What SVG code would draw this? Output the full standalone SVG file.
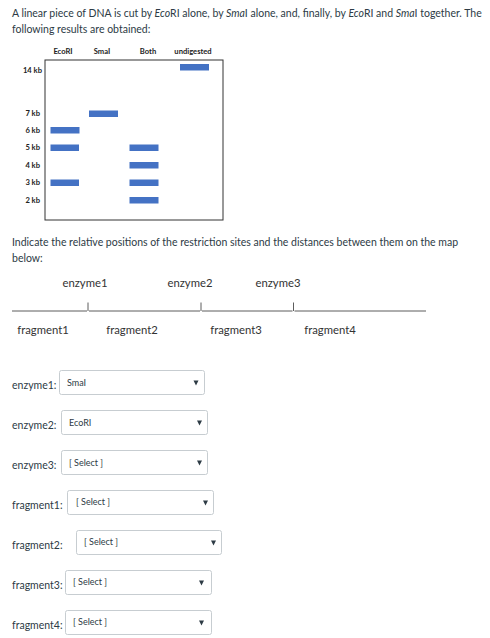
<svg xmlns="http://www.w3.org/2000/svg" width="490" height="638" viewBox="0 0 490 638">
<style>
.p{font-family:Lato,"Liberation Sans",sans-serif;font-size:10.5px;fill:#2d3b45}
.gl{font-family:Lato,"Liberation Sans",sans-serif;font-size:7.6px;font-weight:bold;fill:#222}
.ml{font-family:Lato,"Liberation Sans",sans-serif;font-size:11.3px;fill:#333}
.band{fill:#4472C4}
.box{fill:#fff;stroke:#c7cdd1;stroke-width:1}
.dt{font-family:Lato,"Liberation Sans",sans-serif;font-size:9px;fill:#2d3b45}
.ar{fill:#2d3b45}
.ln{stroke:#333;stroke-width:0.8}
</style>
<rect width="490" height="638" fill="#fff"/>
<g id="intro">
<text class="p" x="12" y="17">A linear piece of DNA  is cut by <tspan font-style="italic">Eco</tspan>RI alone, by <tspan font-style="italic">Sma</tspan>I alone, and, finally, by <tspan font-style="italic">Eco</tspan>RI and <tspan font-style="italic">Sma</tspan>I together. The</text>
<text class="p" x="12" y="33">following results are obtained:</text>
</g>
<g id="gel">
<rect x="45" y="60" width="178" height="160" fill="#fff" stroke="#333" stroke-width="1"/>
<text class="gl" x="63" y="54" text-anchor="middle">EcoRI</text>
<text class="gl" x="102" y="54" text-anchor="middle">SmaI</text>
<text class="gl" x="148" y="54" text-anchor="middle">Both</text>
<text class="gl" x="193" y="54" text-anchor="middle">undigested</text>
<text class="gl" x="42" y="72.5" text-anchor="end">14 kb</text>
<text class="gl" x="40" y="115.5" text-anchor="end">7 kb</text>
<text class="gl" x="40" y="132.5" text-anchor="end">6 kb</text>
<text class="gl" x="40" y="149.5" text-anchor="end">5 kb</text>
<text class="gl" x="40" y="167.5" text-anchor="end">4 kb</text>
<text class="gl" x="40" y="184.5" text-anchor="end">3 kb</text>
<text class="gl" x="40" y="202.5" text-anchor="end">2 kb</text>
<rect class="band" x="180" y="64" width="29" height="6.5"/>
<rect class="band" x="89" y="110.5" width="29" height="6.5"/>
<rect class="band" x="50.5" y="127" width="29" height="6.5"/>
<rect class="band" x="50.5" y="144.5" width="28.5" height="6.5"/>
<rect class="band" x="50.5" y="179.5" width="28.5" height="6.5"/>
<rect class="band" x="129.5" y="144.5" width="29" height="6.5"/>
<rect class="band" x="129.5" y="162" width="29" height="6.5"/>
<rect class="band" x="129.5" y="179.5" width="29" height="6.5"/>
<rect class="band" x="129.5" y="197" width="29" height="6.5"/>
</g>
<g id="question">
<text class="p" x="12" y="246">Indicate the relative positions of the restriction sites and the distances between them on the map</text>
<text class="p" x="12" y="262">below:</text>
</g>
<g id="map">
<text class="ml" x="85" y="287" text-anchor="middle">enzyme1</text>
<text class="ml" x="190" y="287" text-anchor="middle">enzyme2</text>
<text class="ml" x="278" y="287" text-anchor="middle">enzyme3</text>
<text class="ml" x="43" y="334" text-anchor="middle">fragment1</text>
<text class="ml" x="132" y="334" text-anchor="middle">fragment2</text>
<text class="ml" x="236" y="334" text-anchor="middle">fragment3</text>
<text class="ml" x="330" y="334" text-anchor="middle">fragment4</text>
</g>
<g id="connectors">
<line class="ln" x1="12" y1="311" x2="87" y2="311"/>
<line class="ln" x1="89" y1="311" x2="200" y2="311"/>
<line class="ln" x1="202" y1="311" x2="292.5" y2="311"/>
<line class="ln" x1="294.5" y1="311" x2="426" y2="311"/>
<line class="ln" x1="88" y1="302.5" x2="88" y2="311"/>
<line class="ln" x1="201" y1="302.5" x2="201" y2="311"/>
<line class="ln" x1="293.5" y1="302.5" x2="293.5" y2="311"/>
</g>
<g id="enzyme1">
<text class="p" x="12" y="389">enzyme1:</text>
<rect class="box" x="59.5" y="370.5" width="145" height="24" rx="2"/>
<text class="dt" x="67" y="385.5">SmaI</text>
<path class="ar" d="M193.5 380.5h5l-2.5 5z"/>
</g>
<g id="enzyme2">
<text class="p" x="12" y="429">enzyme2:</text>
<rect class="box" x="61.5" y="410.5" width="146" height="24" rx="2"/>
<text class="dt" x="69" y="425.5">EcoRI</text>
<path class="ar" d="M197 420.5h5l-2.5 5z"/>
</g>
<g id="enzyme3">
<text class="p" x="12" y="469">enzyme3:</text>
<rect class="box" x="61.5" y="450.5" width="146" height="24" rx="2"/>
<text class="dt" x="69" y="465.5">[ Select ]</text>
<path class="ar" d="M197 460.5h5l-2.5 5z"/>
</g>
<g id="fragment1">
<text class="p" x="12" y="509">fragment1:</text>
<rect class="box" x="67.5" y="490.5" width="146" height="24" rx="2"/>
<text class="dt" x="76" y="504.5">[ Select ]</text>
<path class="ar" d="M203 500.5h5l-2.5 5z"/>
</g>
<g id="fragment2">
<text class="p" x="12" y="549">fragment2:</text>
<rect class="box" x="76.5" y="530.5" width="145" height="24" rx="2"/>
<text class="dt" x="84" y="544.5">[ Select ]</text>
<path class="ar" d="M211 540.5h5l-2.5 5z"/>
</g>
<g id="fragment3">
<text class="p" x="12" y="589">fragment3:</text>
<rect class="box" x="65.5" y="570.5" width="146" height="24" rx="2"/>
<text class="dt" x="73" y="584.5">[ Select ]</text>
<path class="ar" d="M199 580.5h5l-2.5 5z"/>
</g>
<g id="fragment4">
<text class="p" x="12" y="629">fragment4:</text>
<rect class="box" x="65.5" y="610.5" width="146" height="24" rx="2"/>
<text class="dt" x="73" y="624.5">[ Select ]</text>
<path class="ar" d="M199 620.5h5l-2.5 5z"/>
</g>
</svg>
